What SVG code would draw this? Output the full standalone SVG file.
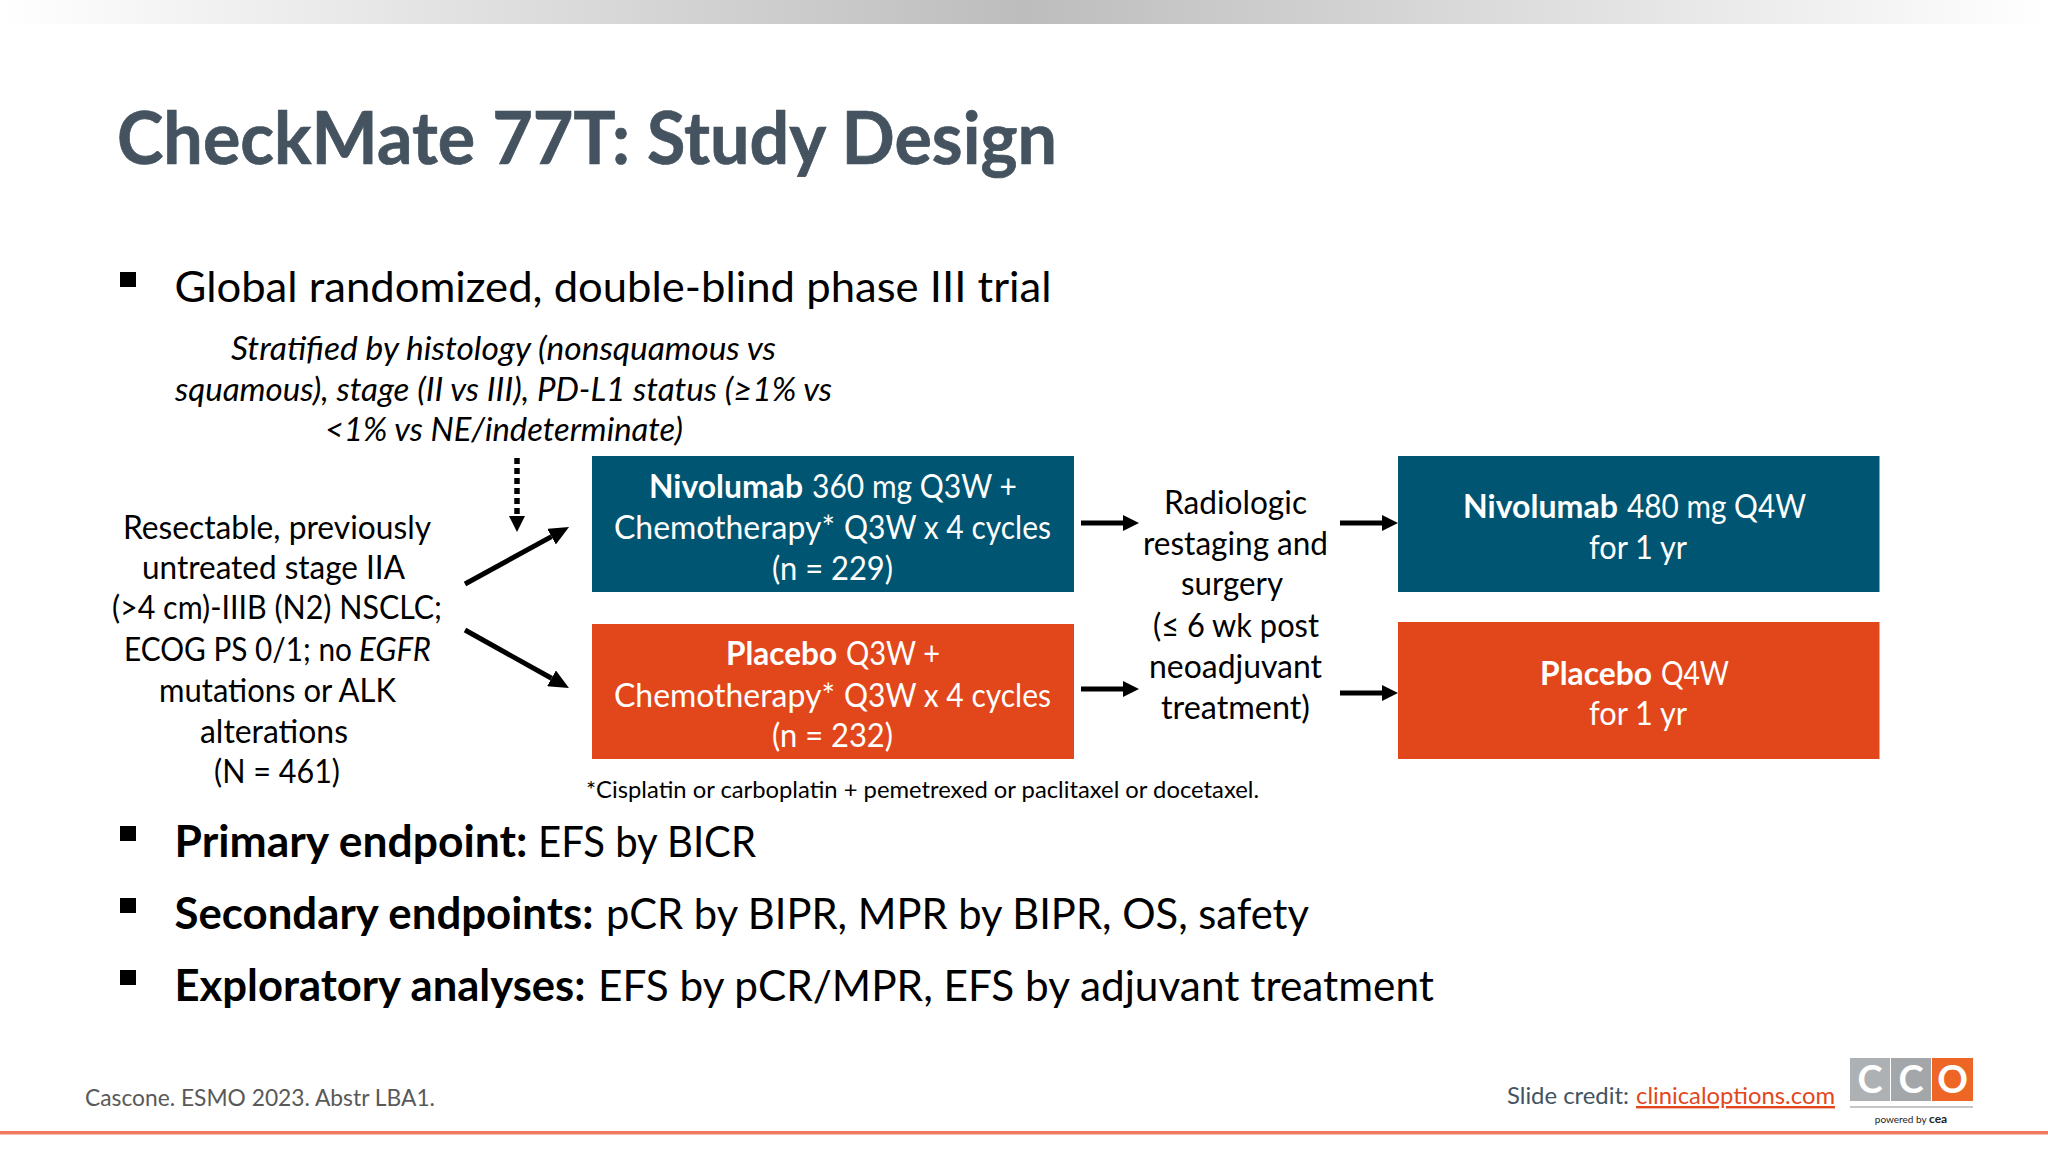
<svg xmlns="http://www.w3.org/2000/svg" width="2048" height="1152" viewBox="0 0 2048 1152">
<defs>
<linearGradient id="band" x1="0" x2="1" y1="0" y2="0">
<stop offset="0" stop-color="#ffffff"/><stop offset="0.5" stop-color="#bdbdbd"/><stop offset="1" stop-color="#ffffff"/>
</linearGradient>
<marker id="ah" markerUnits="userSpaceOnUse" markerWidth="17" markerHeight="16" refX="0" refY="8" orient="auto"><path d="M0 0L16 8L0 16Z" fill="#000"/></marker>
<marker id="ahl" markerUnits="userSpaceOnUse" markerWidth="21" markerHeight="18" refX="0" refY="9" orient="auto"><path d="M0 0L20 9L0 18Z" fill="#000"/></marker>
</defs>
<style>
text{font-family:Lato,"Liberation Sans",sans-serif;fill:#000}
.b{font-weight:700}
.i{font-style:italic}
.t30{font-size:32px}
.w{fill:#fff;font-size:32px}
.bl{font-size:43px}
.sq{fill:#000}
.line{stroke:#000;fill:none;stroke-width:5}
</style>
<rect width="2048" height="1152" fill="#fff"/>
<rect x="0" y="0" width="2048" height="24" fill="url(#band)"/>
<rect x="0" y="1131" width="2048" height="3.500" fill="#f27a5c"/>
<text x="117" y="164" class="b" font-size="73" style="fill:#44535f;stroke:#44535f;stroke-width:0.7" textLength="940" lengthAdjust="spacingAndGlyphs">CheckMate 77T: Study Design</text>
<g id="bullets">
<rect class="sq" x="120" y="272" width="16" height="15"/>
<rect class="sq" x="120" y="826" width="16" height="15"/>
<rect class="sq" x="120" y="898" width="16" height="15"/>
<rect class="sq" x="120" y="970" width="16" height="15"/>
<text class="bl" x="174.500" y="302" textLength="877" lengthAdjust="spacingAndGlyphs">Global randomized, double-blind phase III trial</text>
<text class="bl b" x="174.500" y="857" textLength="353" lengthAdjust="spacingAndGlyphs">Primary endpoint:</text>
<text class="bl" x="538" y="857" textLength="218" lengthAdjust="spacingAndGlyphs">EFS by BICR</text>
<text class="bl b" x="174.500" y="929" textLength="419" lengthAdjust="spacingAndGlyphs">Secondary endpoints:</text>
<text class="bl" x="606" y="929" textLength="703" lengthAdjust="spacingAndGlyphs">pCR by BIPR, MPR by BIPR, OS, safety</text>
<text class="bl b" x="174.500" y="1001" textLength="411" lengthAdjust="spacingAndGlyphs">Exploratory analyses:</text>
<text class="bl" x="598" y="1001" textLength="836" lengthAdjust="spacingAndGlyphs">EFS by pCR/MPR, EFS by adjuvant treatment</text>
</g>
<g id="stratification">
<text class="t30 i" x="231" y="360" textLength="545" lengthAdjust="spacingAndGlyphs">Stratified by histology (nonsquamous vs</text>
<text class="t30 i" x="175" y="401" textLength="657" lengthAdjust="spacingAndGlyphs">squamous), stage (II vs III), PD-L1 status (≥1% vs</text>
<text class="t30 i" x="325" y="441" textLength="358" lengthAdjust="spacingAndGlyphs">&lt;1% vs NE/indeterminate)</text>
</g>
<g id="population">
<text class="t30" x="123" y="539" textLength="308" lengthAdjust="spacingAndGlyphs">Resectable, previously</text>
<text class="t30" x="142" y="579" textLength="263" lengthAdjust="spacingAndGlyphs">untreated stage IIA</text>
<text class="t30" x="112" y="619" textLength="330" lengthAdjust="spacingAndGlyphs">(&gt;4 cm)-IIIB (N2) NSCLC;</text>
<text class="t30" x="124" y="661" textLength="228" lengthAdjust="spacingAndGlyphs">ECOG PS 0/1; no</text>
<text class="t30 i" x="359" y="661" textLength="72" lengthAdjust="spacingAndGlyphs">EGFR</text>
<text class="t30" x="159" y="702" textLength="237" lengthAdjust="spacingAndGlyphs">mutations or ALK</text>
<text class="t30" x="200" y="743" textLength="148" lengthAdjust="spacingAndGlyphs">alterations</text>
<text class="t30" x="214" y="783" textLength="126" lengthAdjust="spacingAndGlyphs">(N = 461)</text>
</g>
<g id="nivo-chemo">
<rect x="592" y="456" width="482" height="136" fill="#005672"/>
<text class="w b" x="649" y="498" textLength="154" lengthAdjust="spacingAndGlyphs">Nivolumab</text>
<text class="w" x="812" y="498" textLength="205" lengthAdjust="spacingAndGlyphs">360 mg Q3W +</text>
<text class="w" x="614" y="539" textLength="221" lengthAdjust="spacingAndGlyphs">Chemotherapy*</text>
<text class="w" x="844" y="539" textLength="207" lengthAdjust="spacingAndGlyphs">Q3W x 4 cycles</text>
<text class="w" x="772" y="580" textLength="121" lengthAdjust="spacingAndGlyphs">(n = 229)</text>
</g>
<g id="placebo-chemo">
<rect x="592" y="624" width="482" height="135" fill="#e2471c"/>
<text class="w b" x="726" y="665" textLength="111" lengthAdjust="spacingAndGlyphs">Placebo</text>
<text class="w" x="846" y="665" textLength="94" lengthAdjust="spacingAndGlyphs">Q3W +</text>
<text class="w" x="614" y="706.500" textLength="221" lengthAdjust="spacingAndGlyphs">Chemotherapy*</text>
<text class="w" x="844" y="706.500" textLength="207" lengthAdjust="spacingAndGlyphs">Q3W x 4 cycles</text>
<text class="w" x="772" y="747" textLength="121" lengthAdjust="spacingAndGlyphs">(n = 232)</text>
</g>
<g id="surgery">
<text class="t30" x="1164" y="514" textLength="143" lengthAdjust="spacingAndGlyphs">Radiologic</text>
<text class="t30" x="1143" y="555" textLength="185" lengthAdjust="spacingAndGlyphs">restaging and</text>
<text class="t30" x="1181" y="595" textLength="102" lengthAdjust="spacingAndGlyphs">surgery</text>
<text class="t30" x="1153" y="637" textLength="166" lengthAdjust="spacingAndGlyphs">(≤ 6 wk post</text>
<text class="t30" x="1149" y="678" textLength="173" lengthAdjust="spacingAndGlyphs">neoadjuvant</text>
<text class="t30" x="1161" y="719" textLength="149" lengthAdjust="spacingAndGlyphs">treatment)</text>
</g>
<g id="nivo-adjuvant">
<rect x="1398" y="456" width="481.500" height="136" fill="#005672"/>
<text class="w b" x="1463" y="518" textLength="155" lengthAdjust="spacingAndGlyphs">Nivolumab</text>
<text class="w" x="1627" y="518" textLength="179" lengthAdjust="spacingAndGlyphs">480 mg Q4W</text>
<text class="w" x="1589" y="559" textLength="98" lengthAdjust="spacingAndGlyphs">for 1 yr</text>
</g>
<g id="placebo-adjuvant">
<rect x="1398" y="622" width="481.500" height="137" fill="#e2471c"/>
<text class="w b" x="1540" y="685" textLength="112" lengthAdjust="spacingAndGlyphs">Placebo</text>
<text class="w" x="1661" y="685" textLength="68" lengthAdjust="spacingAndGlyphs">Q4W</text>
<text class="w" x="1589" y="725" textLength="98" lengthAdjust="spacingAndGlyphs">for 1 yr</text>
</g>
<g id="connectors">
<line class="line" x1="517" y1="458" x2="517" y2="516" stroke-dasharray="6 4" style="stroke-width:5.500" marker-end="url(#ah)"/>
<line class="line" x1="465" y1="584" x2="551.500" y2="536.600" marker-end="url(#ahl)"/>
<line class="line" x1="465" y1="630" x2="551.500" y2="678.300" marker-end="url(#ahl)"/>
<line class="line" x1="1081" y1="523" x2="1123" y2="523" marker-end="url(#ah)"/>
<line class="line" x1="1081" y1="689" x2="1123" y2="689" marker-end="url(#ah)"/>
<line class="line" x1="1340" y1="523" x2="1382" y2="523" marker-end="url(#ah)"/>
<line class="line" x1="1340" y1="693" x2="1382" y2="693" marker-end="url(#ah)"/>
</g>
<text x="586" y="798" font-size="24" textLength="673" lengthAdjust="spacingAndGlyphs">*Cisplatin or carboplatin + pemetrexed or paclitaxel or docetaxel.</text>
<g id="footer">
<text x="85" y="1106" font-size="23" style="fill:#595959" textLength="350" lengthAdjust="spacingAndGlyphs">Cascone. ESMO 2023. Abstr LBA1.</text>
<text x="1507" y="1104" font-size="24" style="fill:#44535f" textLength="122" lengthAdjust="spacingAndGlyphs">Slide credit:</text>
<text x="1636" y="1104" font-size="24" style="fill:#e2471c" text-decoration="underline" textLength="199" lengthAdjust="spacingAndGlyphs">clinicaloptions.com</text>
</g>
<g id="logo">
<rect x="1850" y="1058" width="40" height="43" fill="#aeb1b4"/>
<rect x="1891" y="1058" width="40" height="43" fill="#a3a7a9"/>
<rect x="1932" y="1058" width="41" height="43" fill="#ee6626"/>
<text x="1870" y="1093" font-size="38" class="b" text-anchor="middle" style="fill:#fff">C</text>
<text x="1911" y="1093" font-size="38" class="b" text-anchor="middle" style="fill:#fff">C</text>
<text x="1952.500" y="1093" font-size="38" class="b" text-anchor="middle" style="fill:#fff">O</text>
<rect x="1850" y="1106" width="123" height="2" fill="#c4c6c8"/>
<text x="1911" y="1123" font-size="10" text-anchor="middle" style="fill:#222">powered by <tspan class="b" font-size="12">cea</tspan></text>
</g>
</svg>
